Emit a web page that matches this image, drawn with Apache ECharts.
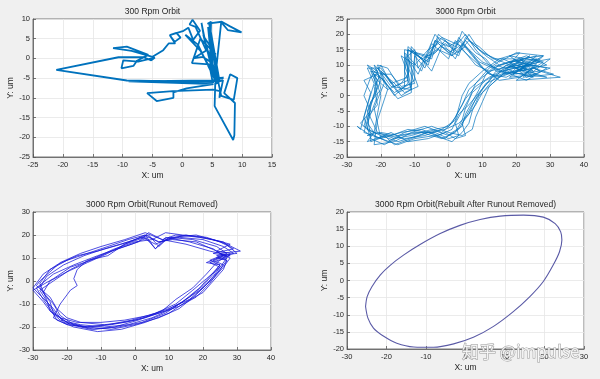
<!DOCTYPE html>
<html><head><meta charset="utf-8">
<script src="https://cdn.jsdelivr.net/npm/echarts@6/dist/echarts.min.js"></script>
<style>html,body{margin:0;padding:0;background:#f0f0f0;}#c{width:600px;height:379px;}</style>
</head><body><div id="c"></div><script>
// ---------- data ----------
const titles = ['300 Rpm Orbit', '3000 Rpm Orbit', '3000 Rpm Orbit(Runout Removed)', '3000 Rpm Orbit(Rebuilt After Runout Removed)'];
const xName = 'X: um';
const yName = 'Y: um';
// [min, max, interval]
const xRanges = [[-25, 15, 5], [-30, 40, 10], [-30, 40, 10], [-30, 30, 10]];
const yRanges = [[-25, 10, 5], [-20, 25, 5], [-30, 30, 10], [-20, 20, 5]];

const orbit300 = [
  [5.3,-6.0],[-9.3,-5.6],[-21.1,-2.9],[-10.7,0.3],[-6.5,0.3],[-5.2,-0.5],[-4.6,0.2],[-7.4,-0.8],[-9.9,-0.5],[-10.2,-2.5],
  [-8.2,-1.9],[-7.6,-0.6],[-5.7,0.9],[-9.3,3.0],[-11.6,2.6],[-8.5,1.9],[-5.0,0.4],[-3.2,2.1],[-2.3,3.8],[-1.2,3.8],
  [-2.1,5.9],[-1.0,6.5],[-0.3,5.3],[-1.3,4.2],[-2.1,5.9],[0.2,7.0],[1.0,7.8],[1.8,4.7],[2.95,7.0],[1.7,9.8],
  [1.2,8.6],[2.2,8.0],[4.0,2.0],[1.8,0.0],[3.4,0.4],[4.6,-0.8],[4.8,9.3],[4.2,8.8],[6.6,9.3],[7.9,8.2],
  [9.9,6.6],[7.6,7.2],[6.5,9.2],[5.5,-5.0],[6.9,-4.9],[4.9,-5.6],[-9.0,-5.8],[5.2,-6.5],[0.7,-7.6],[-1.5,-8.6],
  [-1.5,-10.0],[-4.3,-10.8],[-5.9,-8.8],[-1.6,-8.3],[5.1,-7.9],[6.3,-8.3],[6.2,-10.0],[6.8,-5.5],[5.5,-6.2],[5.4,-12.1],
  [8.5,-20.7],[8.7,-19.5],[8.8,-11.3],[7.0,-8.8],[8.0,-4.0],[9.2,-5.0],[8.6,-10.5],[6.5,-9.5],[5.8,-4.5],[4.0,3.0],
  [3.2,9.0],[3.6,5.5],[5.6,1.0],[3.0,5.0],[1.6,-1.2],[4.5,-1.5],[5.0,-5.5],[6.0,-6.1],[4.3,8.0],[5.0,-3.0],
  [3.5,6.0],[5.8,-6.5],[2.6,3.5],[0.5,6.0],[3.0,2.0],[5.2,-4.0],[4.5,9.0],[6.2,-5.6]
];

const orbit3000 = [
  [-22,-13],[-18,-15],[-13,-12],[-7,-10],[-2,-12],[1,-9],[3,-5],[5,-1],[8,3],[12,6],[17,9],[24,11],[19,7],[27,8],[21,12],[13,9],[9,11],[6,15],[3,19],[1,13],[-4,18],[-7,9],[-10,13],[-11,3],[-15,1],[-19,7],[-23,8],[-21,3],[-24,-5],
  [-21,-12],[-16,-14],[-11,-13],[-5,-11],[0,-13],[3,-11],[5,-7],[7,-3],[10,2],[14,8],[19,11],[26,13],[21,8],[29,10],[23,13],[15,10],[11,13],[7,17],[4,21],[2,15],[-3,20],[-6,11],[-12,15],[-12,5],[-16,3],[-20,9],[-24,9],[-22,4],[-25,-7],
  [-23,-14],[-19,-16],[-14,-13],[-8,-12],[-2,-14],[2,-12],[4,-8],[5,-4],[7,1],[11,5],[16,8],[23,10],[18,6],[26,7],[20,10],[12,8],[8,10],[5,14],[2,18],[0,12],[-5,17],[-8,8],[-13,14],[-11,2],[-14,0],[-18,6],[-22,10],[-20,5],[-23,-3],
  [-24,-11],[-20,-13],[-15,-15],[-9,-13],[-4,-11],[0,-10],[2,-7],[4,-3],[6,2],[10,6],[15,10],[22,12],[17,9],[25,11],[30,12],[24,7],[16,11],[10,14],[5,19],[3,13],[-2,16],[-5,8],[-11,16],[-12,6],[-17,4],[-20,10],[-22,6],[-21,0],[-24,-9],
  [-22,-12],[-17,-13],[-12,-11],[-6,-12],[-1,-11],[3,-9],[6,-6],[8,-1],[11,4],[15,6],[20,8],[28,13],[22,6],[31,7],[25,9],[17,7],[12,10],[8,15],[5,20],[2,16],[-3,19],[-5,12],[-10,14],[-10,5],[-14,2],[-18,9],[-21,10],[-19,4],[-22,-4],
  [-20,-14],[-15,-16],[-10,-14],[-4,-13],[1,-15],[4,-12],[6,-9],[7,-5],[9,0],[13,4],[18,9],[26,10],[20,5],[33,6],[27,8],[19,12],[13,12],[9,16],[6,18],[3,14],[-1,17],[-6,13],[-13,15],[-13,3],[-16,1],[-21,7],[-25,5],[-23,1],[-26,-11],[-27,-10],[-23,-13],
  [-23,-15],[-18,-13],[-13,-14],[-7,-13],[-2,-11],[2,-8],[3,-4],[4,0],[6,4],[10,8],[15,12],[21,14],[18,10],[27,12],[22,9],[14,6],[10,9],[7,13],[4,17],[2,12],[-4,20],[-9,7],[-12,12],[-9,3],[-13,1],[-17,5],[-20,8],[-18,2],[-21,-8],
  [-22,-16],[-16,-15],[-11,-12],[-5,-10],[0,-12],[4,-13],[7,-11],[8,-7],[10,-2],[12,3],[16,7],[23,9],[18,13],[28,11],[21,6],[15,5],[11,8],[8,12],[5,16],[1,13],[-3,15],[-7,11],[-11,15],[-11,1],[-15,-1],[-20,6],[-23,9],[-21,5],[-24,-8],
  [-25,-12],[-20,-14],[-14,-12],[-8,-11],[-3,-13],[1,-11],[3,-6],[6,-3],[9,1],[13,6],[18,8],[25,6],[20,11],[29,9],[23,5],[16,8],[10,11],[7,14],[3,18],[0,16],[-4,18],[-6,10],[-12,16],[-12,4],[-16,0],[-19,5],[-22,7],[-20,0],[-22,-12],
  [-24,-15],[-19,-13],[-16,-16],[-11,-14],[-6,-12],[-1,-14],[1,-12],[4,-10],[5,-6],[7,-2],[9,2],[11,7],[14,10],[19,8],[24,13],[16,8],[27,11],[20,9],[29,6],[22,7],[14,8],[11,12],[8,14],[5,18],[2,14],[-1,18],[-4,14],[-8,12],[-12,15],[-13,8],[-11,2],[-17,3],[-21,9],[-23,6],[-25,0],[-23,-5],[-26,-9],
  [-21,-14],[-17,-12],[-12,-15],[-6,-14],[-1,-12],[2,-14],[5,-13],[4,-9],[6,-6],[8,-3],[10,1],[13,5],[17,10],[22,8],[26,12],[18,11],[23,6],[30,9],[24,10],[17,6],[12,7],[9,10],[6,13],[3,16],[0,14],[-3,17],[-6,15],[-10,10],[-14,13],[-12,7],[-14,4],[-18,2],[-21,5],[-24,10],[-21,8],[-20,2],[-23,-2],[-25,-10],[-22,-12],
  [-24,-13],[-20,-12],[-15,-13],[-10,-12],[-4,-12],[0,-14],[3,-13],[2,-9],[4,-5],[6,-1],[8,4],[12,9],[16,12],[20,10],[25,8],[21,12],[28,13],[20,14],[15,11],[12,13],[9,15],[6,20],[4,16],[-2,19],[-5,15],[-9,9],[-10,15],[-13,12],[-10,4],[-14,3],[-17,7],[-20,7],[-22,3],[-21,-3],[-24,-7],[-23,-13]
];

const orbitRunoutRemoved = [
  [-30,-4],[-27,-9],[-25,-13],[-22,-17],[-16,-19],[-9,-20],[-2,-19],[5,-16],[11,-12],[16,-7],[20,-2],[23,3],[25,7],[22,9],[27,12],[24,15],[17,18],[10,19],[7,15],[4,20],[-2,17],[-9,14],[-15,11],[-21,7],[-26,2],
  [-28,-3],[-25,-9],[-24,-14],[-20,-18],[-14,-20],[-7,-21],[0,-19],[7,-16],[13,-12],[18,-6],[22,0],[25,5],[27,9],[24,11],[30,12],[26,17],[19,19],[12,20],[8,18],[3,21],[-3,18],[-10,15],[-16,12],[-22,8],[-28,0],
  [-29,-2],[-25,-7],[-23,-12],[-20,-16],[-16,-18],[-9,-19],[-3,-18],[3,-16],[9,-13],[14,-9],[19,-3],[22,2],[25,7],[21,8],[26,11],[23,14],[16,17],[9,19],[6,14],[3,19],[-3,16],[-8,12],[-14,8],[-20,4],[-25,0],
  [-27,-5],[-24,-10],[-22,-15],[-18,-19],[-12,-21],[-5,-20],[2,-18],[9,-14],[14,-9],[19,-4],[23,1],[26,6],[28,10],[25,12],[31,13],[27,16],[21,19],[14,20],[9,21],[5,18],[0,17],[-6,14],[-12,10],[-19,5],[-24,0],
  [-28,-4],[-25,-11],[-23,-15],[-19,-19],[-13,-21],[-6,-20],[1,-17],[8,-13],[12,-8],[17,-3],[21,3],[24,8],[27,11],[23,12],[29,14],[25,17],[18,20],[11,19],[6,16],[2,19],[-4,16],[-11,13],[-17,11],[-23,7],[-27,3],
  [-30,-3],[-26,-9],[-24,-12],[-21,-18],[-15,-20],[-8,-19],[-1,-17],[6,-14],[12,-10],[17,-4],[21,1],[25,6],[28,12],[24,13],[28,16],[23,18],[15,20],[9,18],[6,14],[3,20],[-3,16],[-8,11],[-14,9],[-17,5],[-18,1],[-17,-2],[-19,-4],
  [-20,-6],[-22,-10],[-24,-16],[-20,-19],[-14,-20],[-7,-19],[0,-17],[7,-14],[13,-11],[18,-7],[22,-1],[24,3],[26,7],[23,9],[28,11],[22,13],[15,16],[8,18],[4,21],[1,17],[-5,14],[-11,11],[-18,7],[-24,3],[-29,-3],
  [-27,-8],[-25,-12],[-23,-17],[-18,-20],[-11,-22],[-4,-21],[3,-18],[10,-14],[15,-9],[20,-5],[23,0],[26,5],[27,9],[24,10],[29,12],[26,15],[20,18],[13,19],[7,17],[3,20],[-2,18],[-8,15],[-14,12],[-20,9],[-25,5],
  [-28,-1],[-26,-8],[-25,-13],[-22,-16],[-17,-18],[-10,-18],[-3,-17],[4,-15],[10,-12],[16,-8],[20,-3],[23,2],[25,6],[22,8],[27,10],[24,13],[18,17],[11,18],[7,17],[4,19],[-1,16],[-7,13],[-13,9],[-19,6],[-24,1],[-30,-4]
];

const orbitRebuilt = [
  [-25.3,-7.6],[-24.9,-4.7],[-23.7,-1.8],[-21.6,1.6],[-19.0,4.5],[-15.7,7.4],[-11.5,10.5],[-6.4,13.7],[-1.4,16.1],[3.7,17.8],
  [8.8,18.8],[14.7,19.1],[19.7,18.5],[22.7,16.6],[24.1,14.2],[24.4,11.8],[23.8,8.4],[22.2,4.5],[19.7,-0.3],[16.3,-4.7],
  [12.1,-9.1],[7.1,-13.4],[2.0,-16.6],[-3.0,-18.5],[-8.1,-19.5],[-13.1,-19.4],[-17.4,-18.3],[-20.7,-16.3],[-23.3,-13.9],[-24.7,-11.0],
  [-25.3,-7.6]
];

// ---------- layout / style ----------
const grids = [
  {left: 33, top: 19, width: 239, height: 138},
  {left: 347, top: 19, width: 237, height: 138},
  {left: 33, top: 212, width: 238, height: 138},
  {left: 347, top: 212, width: 237, height: 137}
];
const seriesData = [orbit300, orbit3000, orbitRunoutRemoved, orbitRebuilt];
const lineStyles = [
  {color: '#0072BD', width: 1.8},
  {color: '#0072BD', width: 0.7},
  {color: '#1414d8', width: 0.75},
  {color: '#5a5aa6', width: 1.1}
];
const FONT = '"Liberation Sans", Arial, Helvetica, sans-serif';
const axisColor = '#262626';

function mkAxis(range, i, isX) {
  return {
    type: 'value', gridIndex: i, min: range[0], max: range[1], interval: range[2],
    name: isX ? xName : yName, nameLocation: 'middle', nameGap: isX ? 14 : 17,
    nameTextStyle: {fontSize: 8.5, color: axisColor, fontFamily: FONT},
    axisLine: {show: true, onZero: false, lineStyle: {color: '#555', width: 0.8}},
    axisTick: {show: true, inside: true, length: 3, lineStyle: {color: '#555', width: 0.8}},
    axisLabel: {fontSize: 7.5, color: axisColor, fontFamily: FONT, margin: isX ? 4 : 3, showMinLabel: true, showMaxLabel: true},
    splitLine: {show: true, lineStyle: {color: '#e6e6e6', width: 0.8}}
  };
}

const chart = echarts.init(document.getElementById('c'), null, {renderer: 'canvas'});
const graphics = titles.map((t, i) => ({
  type: 'text', x: grids[i].left + grids[i].width / 2, y: grids[i].top - 7,
  style: {text: t, font: '8.5px ' + FONT, fill: axisColor, align: 'center', verticalAlign: 'middle', textAlign: 'center', textVerticalAlign: 'middle'}
}));
graphics.push({
  type: 'text', x: 462, y: 352, z: 100,
  style: {text: '知乎 @impulse', font: '17px "Noto Sans CJK SC", sans-serif', fill: 'rgba(255,255,255,0.85)', stroke: '#9a9a9a', lineWidth: 1, align: 'left', verticalAlign: 'middle', textAlign: 'left', textVerticalAlign: 'middle'}
});

chart.setOption({
  animation: false,
  backgroundColor: '#f0f0f0',
  grid: grids.map(g => Object.assign({show: true, backgroundColor: '#fff', borderColor: '#555', borderWidth: 0.8, containLabel: false, outerBoundsMode: 'none'}, g)),
  xAxis: xRanges.map((r, i) => mkAxis(r, i, true)),
  yAxis: yRanges.map((r, i) => mkAxis(r, i, false)),
  series: seriesData.map((d, i) => ({
    type: 'line', xAxisIndex: i, yAxisIndex: i, data: d, symbol: 'none', showSymbol: false,
    smooth: i === 3 ? 0.3 : false, lineStyle: lineStyles[i], itemStyle: {color: lineStyles[i].color}, clip: true
  })),
  graphic: graphics
});
</script></body></html>
